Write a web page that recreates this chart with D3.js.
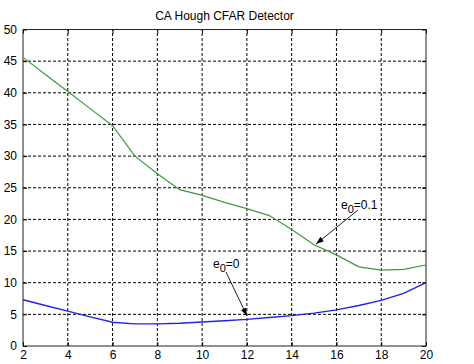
<!DOCTYPE html>
<html><head><meta charset="utf-8">
<script src="https://cdn.jsdelivr.net/npm/d3@7"></script>
<style>body{margin:0;background:#fff}svg{display:block}text{font-family:Arial,"Liberation Sans",sans-serif}</style>
</head><body>
<script>
const xValues = [2,3,4,5,6,7,8,9,10,11,12,13,14,15,16,17,18,19,20];
const green01 = [45.6,42.9,40.2,37.5,34.8,30.0,27.2,24.7,23.8,22.7,21.7,20.6,18.4,16.0,14.4,12.5,12.0,12.1,12.8];
const blue0 = [7.3,6.4,5.5,4.6,3.75,3.5,3.5,3.6,3.8,4.0,4.2,4.5,4.8,5.2,5.7,6.4,7.2,8.3,10.0];
const xTicks = [2,4,6,8,10,12,14,16,18,20];
const yTicks = [0,5,10,15,20,25,30,35,40,45,50];
const title = "CA Hough CFAR Detector";

const W=474,H=364;
const m={l:23,r:48,t:29.5,b:18};
const svg=d3.select("body").append("svg").attr("width",W).attr("height",H);
const x=d3.scaleLinear().domain([2,20]).range([m.l,W-m.r]);
const y=d3.scaleLinear().domain([0,50]).range([H-m.b,m.t]);

// grid
const g=svg.append("g");
g.selectAll(".vx").data(xTicks.slice(1,-1)).join("line")
 .attr("x1",d=>x(d)).attr("x2",d=>x(d)).attr("y1",y(0)).attr("y2",y(50))
 .attr("stroke","#000").attr("stroke-dasharray","3,2").attr("stroke-width",1);
g.selectAll(".hy").data(yTicks.slice(1,-1)).join("line")
 .attr("y1",d=>y(d)).attr("y2",d=>y(d)).attr("x1",x(2)).attr("x2",x(20))
 .attr("stroke","#000").attr("stroke-dasharray","3,2").attr("stroke-width",1);

// axes
const xAxis=d3.axisBottom(x).tickValues(xTicks).tickSize(-4).tickPadding(7);
const yAxis=d3.axisLeft(y).tickValues(yTicks).tickSize(-4).tickPadding(6);
const xa=svg.append("g").attr("transform",`translate(0,${y(0)})`).call(xAxis);
const ya=svg.append("g").attr("transform",`translate(${x(2)},0)`).call(yAxis);
const xt=svg.append("g").attr("transform",`translate(0,${y(50)})`).call(d3.axisTop(x).tickValues(xTicks).tickSize(-4).tickFormat(""));
const yr=svg.append("g").attr("transform",`translate(${x(20)},0)`).call(d3.axisRight(y).tickValues(yTicks).tickSize(-4).tickFormat(""));
[xa,ya,xt,yr].forEach(a=>{a.select(".domain").remove();a.selectAll("line").attr("stroke","#000");a.selectAll("text").attr("font-size",12).attr("fill","#000");});
xa.selectAll("text").attr("dy","0.5em");

svg.append("rect").attr("x",x(2)).attr("y",y(50)).attr("width",x(20)-x(2)).attr("height",y(0)-y(50))
 .attr("fill","none").attr("stroke","#222").attr("stroke-width",1);

// lines
const line=d3.line().x((d,i)=>x(xValues[i])).y(d=>y(d));
svg.append("path").datum(green01).attr("d",line).attr("fill","none").attr("stroke","#3c9a3c").attr("stroke-width",1.2);
svg.append("path").datum(blue0).attr("d",line).attr("fill","none").attr("stroke","#2222e6").attr("stroke-width",1.4);

// title
svg.append("text").attr("x",(x(2)+x(20))/2).attr("y",20).attr("text-anchor","middle").attr("font-size",12).text(title);

// annotations
svg.append("defs").append("marker").attr("id","ah").attr("viewBox","0 0 10 10").attr("refX",10).attr("refY",5)
 .attr("markerWidth",8).attr("markerHeight",8).attr("orient","auto-start-reverse").attr("markerUnits","userSpaceOnUse")
 .append("path").attr("d","M0,1.5L10,5L0,8.5Z").attr("fill","#000");

function label(tx,ty,val){
  const t=svg.append("text").attr("x",tx).attr("y",ty).attr("font-size",12);
  t.append("tspan").text("e");
  t.append("tspan").attr("dy",4).attr("font-size",11).text("0");
  t.append("tspan").attr("dy",-4).text("="+val);
}
label(341,209,"0.1");
svg.append("line").attr("x1",358).attr("y1",210).attr("x2",316).attr("y2",244).attr("stroke","#222").attr("marker-end","url(#ah)");
label(213,268,"0");
svg.append("line").attr("x1",226).attr("y1",272).attr("x2",247).attr("y2",316).attr("stroke","#222").attr("marker-end","url(#ah)");
</script>
</body></html>
